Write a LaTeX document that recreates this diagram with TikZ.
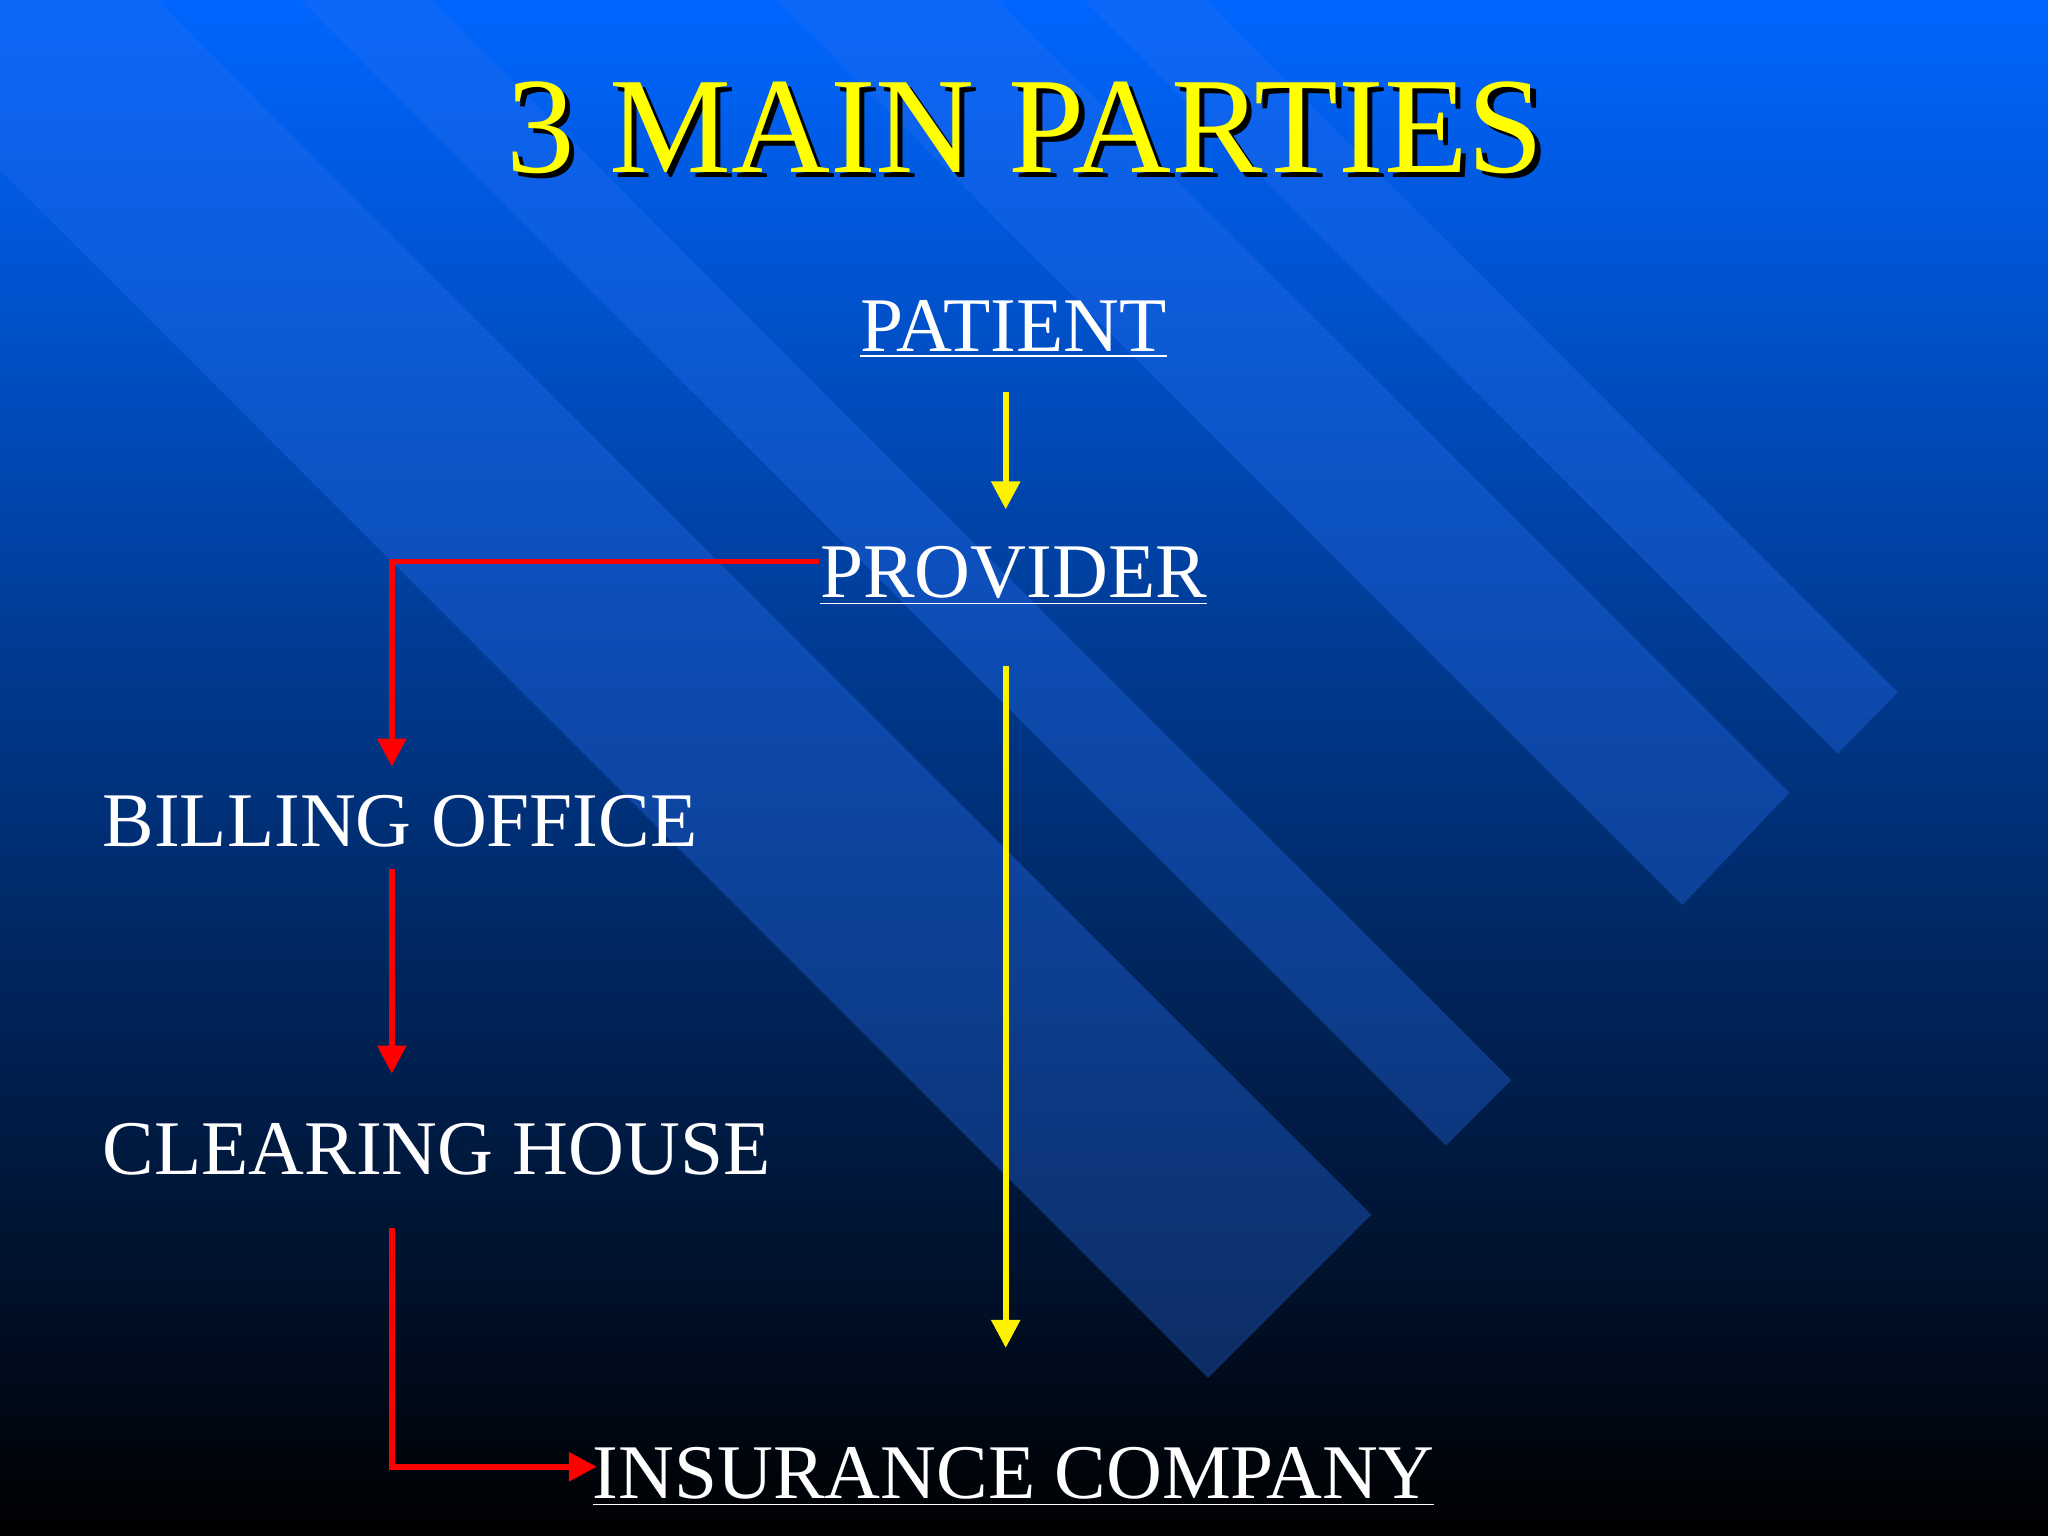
\documentclass[tikz,border=0pt]{standalone}
\usepackage{fontspec}
\setmainfont{Liberation Serif}
\usetikzlibrary{arrows.meta}
\definecolor{topblue}{RGB}{0,102,255}
\definecolor{stripe}{RGB}{40,110,240}
\definecolor{ttl}{RGB}{255,255,0}
\begin{document}
\begin{tikzpicture}[x=0.013061cm,y=-0.013061cm,
  lbl/.style={text=white,font=\fontsize{22}{26}\selectfont,inner sep=0},
  yarr/.style={draw=yellow,line width=1.6pt,-{Triangle[length=8pt,width=8pt]}},
  rarr/.style={draw=red,line width=1.6pt,-{Triangle[length=8pt,width=8pt]}}]
\useasboundingbox (0,0) rectangle (1568,1176);
\shade[top color=topblue,bottom color=black] (0,0) rectangle (1568,1176);
\begin{scope}
\clip (0,0) rectangle (1568,1176);
\fill[stripe,opacity=0.35] (1050,930)--(925,1055)--(0,130)--(0,0)--(120,0)--cycle;
\fill[stripe,opacity=0.35] (1157,827)--(1107,877)--(230,0)--(330,0)--cycle;
\fill[stripe,opacity=0.35] (1370,607)--(1288,693)--(595,0)--(763,0)--cycle;
\fill[stripe,opacity=0.35] (1453,530)--(1407,577)--(830,0)--(923,0)--cycle;
\end{scope}
\node[text=black,font=\fontsize{39}{44}\selectfont] at (789,102) {3 MAIN PARTIES};
\node (title) [text=ttl,font=\fontsize{39}{44}\selectfont] at (785,98) {3 MAIN PARTIES};
\node (pat) [lbl] at (776,252) {\underline{PATIENT}};
\node (prov) [lbl] at (776,441) {\underline{PROVIDER}};
\node (bill) [lbl,anchor=west] at (78,629) {BILLING OFFICE};
\node (clr) [lbl,anchor=west] at (78,880) {CLEARING HOUSE};
\node (ins) [lbl] at (776,1131) {\underline{INSURANCE COMPANY}};
\coordinate (a1) at (770,300); \coordinate (a2) at (770,390);
\coordinate (b1) at (770,510); \coordinate (b2) at (770,1032);
\draw[yarr] (a1) -- (a2);
\draw[yarr] (b1) -- (b2);
\coordinate (r1) at (627,430); \coordinate (r2) at (300,587);
\draw[rarr] (r1) -| (r2);
\coordinate (r3) at (300,665); \coordinate (r4) at (300,822);
\draw[rarr] (r3) -- (r4);
\coordinate (r5) at (300,940); \coordinate (r6) at (457,1123);
\draw[rarr] (r5) |- (r6);
\end{tikzpicture}
\end{document}
